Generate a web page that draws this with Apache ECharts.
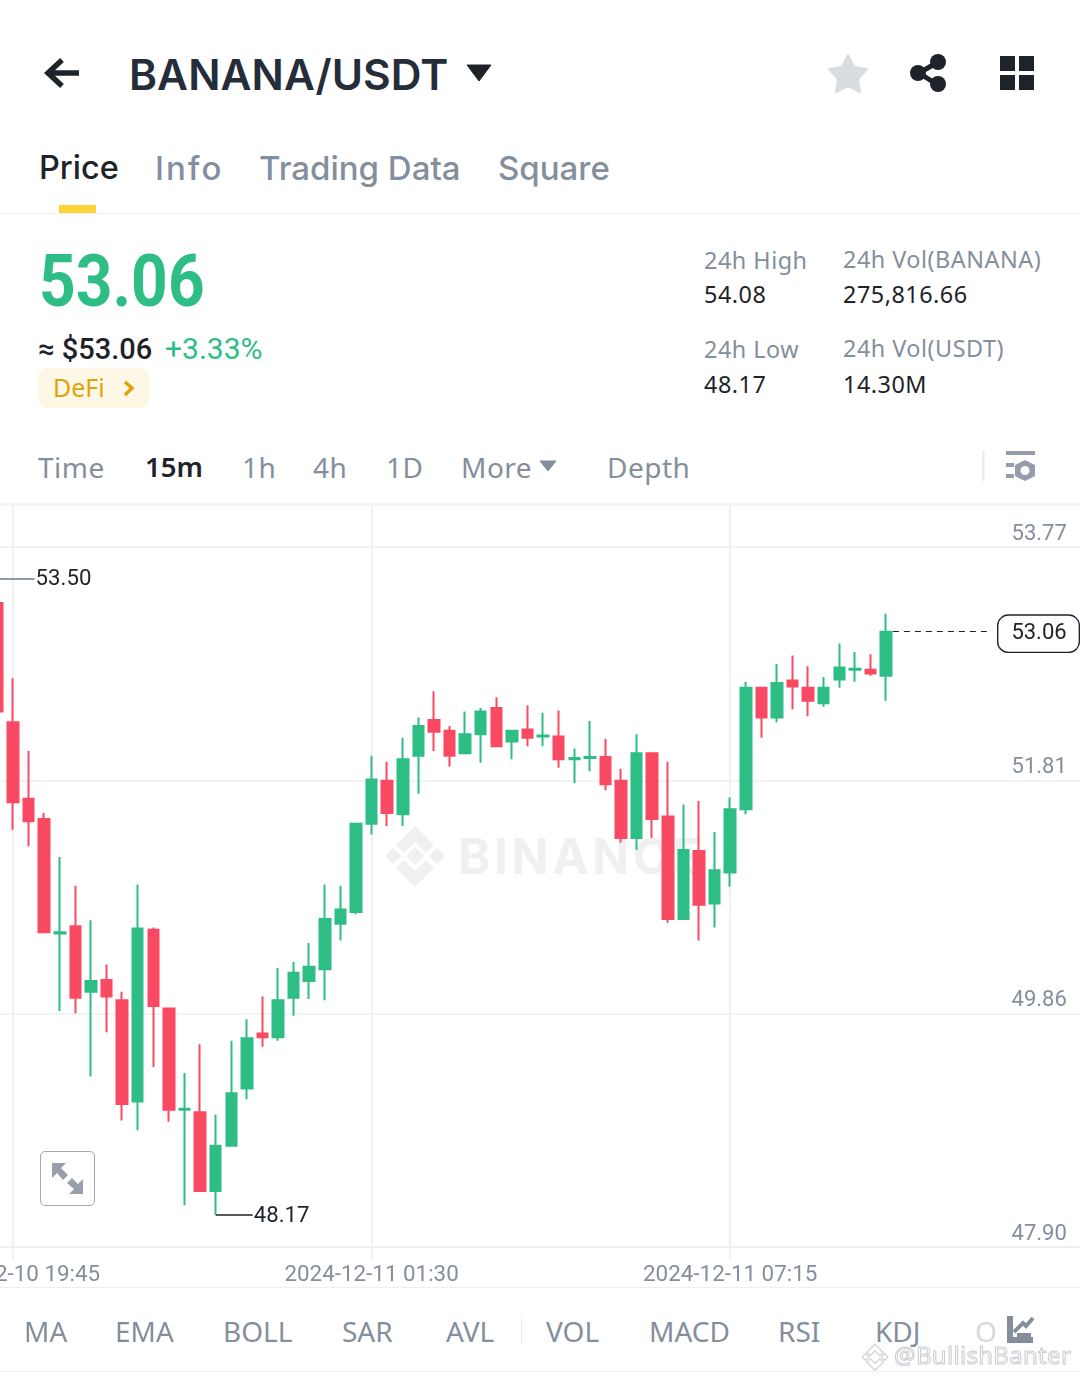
<!DOCTYPE html>
<html>
<head>
<meta charset="utf-8">
<title>BANANA/USDT</title>
<script src="https://cdn.jsdelivr.net/npm/echarts@6/dist/echarts.min.js"></script>
<style>
  html, body { margin: 0; padding: 0; background: #fff; }
  #page { position: relative; width: 1080px; height: 1378px; overflow: hidden; font-family: Inter, "Noto Sans", sans-serif; }
  .t { position: absolute; white-space: nowrap; line-height: 1; transform: translateY(-50%); color: #848e9c; }
  .plex { font-family: "Noto Sans", sans-serif; }
  .dark { color: #1e2329; }
  .line { position: absolute; left: 0; width: 1080px; background: #eeeff1; }
  svg { position: absolute; overflow: visible; }
  #chart { position: absolute; left: 0; top: 506px; width: 1080px; height: 781px; }
  .tab { font-size: 33px; font-weight: 500; }
  .stat { font-size: 23.4px; letter-spacing: 0.5px; font-family: "Noto Sans", sans-serif; }
  .period { font-size: 28px; top: 467px; letter-spacing: 0.5px; font-family: "Noto Sans", sans-serif; }
  .ind { font-size: 28px; top: 1331px; font-family: "Noto Sans", sans-serif; }
</style>
</head>
<body>
<div id="page">
  <!-- top bar -->
  <svg style="left:0;top:0" width="1080" height="120">
    <path d="M79 73 H49 M62 60 L48 73 L62 86" fill="none" stroke="#1e2329" stroke-width="5.5"/>
    <path d="M467 65 H491 L479 81 Z" fill="#1e2329" stroke="#1e2329" stroke-width="1" stroke-linejoin="round"/>
    <path d="M848 55 L854 67 L867 69 L858 79 L860 92 L848 86 L836 92 L838 79 L829 69 L842 67 Z" fill="#d9dce1" stroke="#d9dce1" stroke-width="2" stroke-linejoin="round"/>
    <path d="M938 62 L919 73 L938 85" fill="none" stroke="#1e2329" stroke-width="5"/>
    <circle cx="938" cy="62" r="8" fill="#1e2329"/><circle cx="918" cy="73" r="8" fill="#1e2329"/><circle cx="938" cy="84" r="8" fill="#1e2329"/>
    <path d="M1000 56 H1015 V71 H1000 Z M1019 56 H1034 V71 H1019 Z M1000 75 H1015 V90 H1000 Z M1019 75 H1034 V90 H1019 Z" fill="#1e2329"/>
  </svg>
  <div class="t dark" style="left:129px;top:75px;font-size:42.5px;font-weight:600;letter-spacing:0.1px;color:#252d3b">BANANA/USDT</div>

  <div class="t tab dark" style="left:39px;top:168px;font-size:32.5px">Price</div>
  <div class="t tab" style="left:155px;top:168px;letter-spacing:2px">Info</div>
  <div class="t tab" style="left:259px;top:168px">Trading Data</div>
  <div class="t tab" style="left:498px;top:168px">Square</div>
  <div style="position:absolute;left:59px;top:205px;width:37px;height:8px;background:#fcd535"></div>
  <div class="line" style="top:213px;height:1px"></div>

  <!-- price block -->
  <div class="t" id="bigPrice" style="left:39px;top:282px;font-family:Roboto;font-size:72px;font-weight:700;color:#2ebd85;transform:translateY(-50%) scaleX(0.89);transform-origin:left center">53.06</div>
  <div class="t dark" style="left:38px;top:349px;font-family:Roboto;font-size:29px;font-weight:500">≈ $53.06</div>
  <div class="t" style="left:165px;top:349px;font-family:Roboto;font-size:30px;color:#2ebd85">+3.33%</div>
  <div style="position:absolute;left:38px;top:368px;width:111px;height:40px;border-radius:9px;background:#fdf7e6"></div>
  <div class="t plex" style="left:53px;top:387px;font-size:25px;color:#e0a30b">DeFi</div>
  <svg style="left:0;top:0" width="200" height="420"><path d="M125 382 L132 388 L125 395" fill="none" stroke="#e0a30b" stroke-width="3.5"/></svg>

  <div class="t stat" style="left:704px;top:261px">24h High</div>
  <div class="t stat dark" style="left:704px;top:295px">54.08</div>
  <div class="t stat" style="left:704px;top:350px">24h Low</div>
  <div class="t stat dark" style="left:704px;top:385px">48.17</div>
  <div class="t stat" style="left:843px;top:260px">24h Vol(BANANA)</div>
  <div class="t stat dark" style="left:843px;top:295px">275,816.66</div>
  <div class="t stat" style="left:843px;top:349px">24h Vol(USDT)</div>
  <div class="t stat dark" style="left:843px;top:385px">14.30M</div>

  <!-- period row -->
  <div class="t period" style="left:38px">Time</div>
  <div class="t period dark" style="left:145px;font-weight:600;font-size:27.5px;letter-spacing:0">15m</div>
  <div class="t period" style="left:242px">1h</div>
  <div class="t period" style="left:313px">4h</div>
  <div class="t period" style="left:386px">1D</div>
  <div class="t period" style="left:461px">More</div>
  <div class="t period" style="left:607px">Depth</div>
  <svg style="left:0;top:0" width="1080" height="500">
    <path d="M540 461 H556 L548 471 Z" fill="#848e9c" stroke="#848e9c" stroke-linejoin="round"/>
    <rect x="982" y="451" width="2.5" height="30" fill="#eaecef"/>
    <path d="M1006 451 H1035 V455 H1006 Z M1006 463 H1014 V467 H1006 Z M1006 474 H1014 V478 H1006 Z" fill="#959cab"/>
    <path d="M1025 460 L1035 465 V476 L1025 481 L1015 476 V465 Z M1025 466 a4.5 4.5 0 1 0 0.01 0 Z" fill="#959cab" fill-rule="evenodd"/>
  </svg>
  <div class="line" style="top:503px;height:3px;background:#f5f5f6"></div>

  <!-- watermark sits under the transparent chart canvas -->
  <svg style="left:0;top:0" width="1080" height="900">
    <path d="M415 826 L434 845 L426 853 L415 842 L404 853 L396 845 Z M415 887 L434 868 L426 860 L415 871 L404 860 L396 868 Z M385 856 L393 848 L401 856 L393 864 Z M429 856 L437 848 L445 856 L437 864 Z M415 847 L424 856 L415 865 L406 856 Z" fill="#eef0f2"/>
  </svg>
  <div class="t" style="left:458px;top:856px;font-size:49px;font-weight:700;letter-spacing:3.5px;color:#eef0f2">BINANCE</div>

  <div id="chart"></div>

  <!-- expand button -->
  <div style="position:absolute;left:40px;top:1151px;width:53px;height:53px;border:1.5px solid #a4a9b5;border-radius:5px;background:#fff"></div>
  <svg style="left:0;top:0" width="200" height="1300">
    <path d="M52 1163 H66 L61 1168 L68 1175 L63 1180 L57 1173 L52 1178 Z" fill="#989eac"/>
    <path d="M83 1194 H69 L74 1189 L67 1183 L72 1178 L78 1184 L83 1179 Z" fill="#989eac"/>
  </svg>

  <div class="line" style="top:1287px;height:1px"></div>
  <div class="t ind" style="left:24px">MA</div>
  <div class="t ind" style="left:115px">EMA</div>
  <div class="t ind" style="left:223px">BOLL</div>
  <div class="t ind" style="left:342px">SAR</div>
  <div class="t ind" style="left:446px">AVL</div>
  <div style="position:absolute;left:521px;top:1314px;width:1px;height:30px;background:#eaecef"></div>
  <div class="t ind" style="left:546px">VOL</div>
  <div class="t ind" style="left:649px">MACD</div>
  <div class="t ind" style="left:778px">RSI</div>
  <div class="t ind" style="left:875px">KDJ</div>
  <div class="t ind" style="left:975px;color:#d5d8dd">O</div>
  <svg style="left:0;top:0" width="1080" height="1378">
    <path d="M1007 1316 H1013 V1337 H1033 V1343 H1007 Z" fill="#848e9c"/>
    <path d="M1014 1332 L1023 1323 L1026 1326 L1033 1318 M1017 1335 L1031 1335" fill="none" stroke="#848e9c" stroke-width="4"/>
    <g transform="translate(875 1357) scale(0.43) translate(-415 -856)">
      <path d="M415 826 L434 845 L426 853 L415 842 L404 853 L396 845 Z M415 887 L434 868 L426 860 L415 871 L404 860 L396 868 Z M385 856 L393 848 L401 856 L393 864 Z M429 856 L437 848 L445 856 L437 864 Z" fill="#fff" stroke="#c9ccd2" stroke-width="2.4"/>
    </g>
  </svg>
  <div class="line" style="top:1371px;height:1px"></div>
  <div class="t plex" style="left:894px;top:1355px;font-size:24px;letter-spacing:0.3px;color:#fff;-webkit-text-stroke:1px #c9ccd2">@BullishBanter</div>
</div>

<script>
const candleTimes = [
  "2024-12-10 19:30", "2024-12-10 19:45", "2024-12-10 20:00", "2024-12-10 20:15", "2024-12-10 20:30",
  "2024-12-10 20:45", "2024-12-10 21:00", "2024-12-10 21:15", "2024-12-10 21:30", "2024-12-10 21:45",
  "2024-12-10 22:00", "2024-12-10 22:15", "2024-12-10 22:30", "2024-12-10 22:45", "2024-12-10 23:00",
  "2024-12-10 23:15", "2024-12-10 23:30", "2024-12-10 23:45", "2024-12-11 00:00", "2024-12-11 00:15",
  "2024-12-11 00:30", "2024-12-11 00:45", "2024-12-11 01:00", "2024-12-11 01:15", "2024-12-11 01:30",
  "2024-12-11 01:45", "2024-12-11 02:00", "2024-12-11 02:15", "2024-12-11 02:30", "2024-12-11 02:45",
  "2024-12-11 03:00", "2024-12-11 03:15", "2024-12-11 03:30", "2024-12-11 03:45", "2024-12-11 04:00",
  "2024-12-11 04:15", "2024-12-11 04:30", "2024-12-11 04:45", "2024-12-11 05:00", "2024-12-11 05:15",
  "2024-12-11 05:30", "2024-12-11 05:45", "2024-12-11 06:00", "2024-12-11 06:15", "2024-12-11 06:30",
  "2024-12-11 06:45", "2024-12-11 07:00", "2024-12-11 07:15", "2024-12-11 07:30", "2024-12-11 07:45",
  "2024-12-11 08:00", "2024-12-11 08:15", "2024-12-11 08:30", "2024-12-11 08:45", "2024-12-11 09:00",
  "2024-12-11 09:15", "2024-12-11 09:30", "2024-12-11 09:45"
];
const opens = [
  53.30, 52.30, 51.66, 51.49, 50.53, 50.59, 50.04, 50.14, 49.97, 49.12,
  50.56, 49.90, 49.05, 49.03, 48.37, 48.75, 49.23, 49.69, 49.66, 49.99,
  50.13, 50.23, 50.61, 50.71, 51.45, 51.81, 51.53, 52.02, 52.32, 52.23,
  52.04, 52.20, 52.42, 52.14, 52.24, 52.18, 52.18, 51.99, 52.00, 52.01,
  51.81, 51.33, 52.04, 51.51, 50.65, 51.22, 50.78, 51.04, 51.57, 52.59,
  52.34, 52.65, 52.59, 52.46, 52.66, 52.74, 52.74, 52.69
];
const closes = [
  52.39, 51.63, 51.47, 50.54, 50.54, 49.99, 50.13, 50.00, 49.10, 50.57,
  49.92, 49.05, 49.06, 48.37, 48.75, 49.19, 49.65, 49.66, 49.97, 50.20,
  50.25, 50.65, 50.73, 51.45, 51.82, 51.54, 51.99, 52.27, 52.22, 52.02,
  52.20, 52.39, 52.10, 52.23, 52.17, 52.19, 51.99, 52.00, 52.01, 51.78,
  51.33, 52.04, 51.49, 50.65, 51.23, 50.77, 51.06, 51.57, 52.59, 52.34,
  52.63, 52.60, 52.48, 52.59, 52.76, 52.75, 52.71, 53.06
];
const lows = [
  52.30, 51.40, 51.26, 50.54, 49.88, 49.86, 49.33, 49.70, 48.96, 48.88,
  49.41, 48.95, 48.25, 48.37, 48.17, 48.75, 49.14, 49.58, 49.63, 49.84,
  49.98, 49.97, 50.47, 50.69, 51.36, 51.43, 51.43, 51.70, 52.06, 51.93,
  52.03, 51.96, 52.10, 51.99, 52.10, 52.10, 51.92, 51.79, 51.89, 51.73,
  51.29, 51.23, 51.33, 50.62, 50.65, 50.47, 50.58, 50.92, 51.53, 52.17,
  52.30, 52.41, 52.35, 52.43, 52.59, 52.64, 52.69, 52.48
];
const highs = [
  53.50, 52.67, 52.06, 51.54, 51.17, 50.93, 50.64, 50.27, 50.04, 50.94,
  50.58, 49.90, 49.36, 49.60, 49.01, 49.63, 49.81, 50.00, 50.24, 50.29,
  50.45, 50.94, 50.93, 51.45, 52.02, 51.97, 52.17, 52.34, 52.56, 52.27,
  52.39, 52.42, 52.51, 52.23, 52.44, 52.38, 52.40, 52.08, 52.31, 52.16,
  51.91, 52.20, 52.04, 51.97, 51.61, 51.64, 51.38, 51.67, 52.64, 52.59,
  52.79, 52.86, 52.77, 52.68, 52.96, 52.89, 52.87, 53.21
];
const priceTicks = [47.90, 49.86, 51.81, 53.77];
const timeTicks = ["2024-12-10 19:45", "2024-12-11 01:30", "2024-12-11 07:15"];

const GREEN = "#2ebd85";
const RED = "#f94963";
const GRID_LINE = "#eeeff1";
const LABEL_FONT = "Roboto";

function priceNote(from, to, price, lineColor, labelDy) {
  return [
    {
      coord: [from, price],
      lineStyle: { color: lineColor, width: 1.5, type: "solid" },
      label: { show: true, position: "end", formatter: price.toFixed(2), distance: 1, offset: [0, labelDy], color: "#1e2329", fontFamily: LABEL_FONT, fontSize: 22.2 }
    },
    { coord: [to, price] }
  ];
}

// last price: dashed leader into the rounded box on the right
function lastPriceLine(from, to, price) {
  return [
    {
      coord: [from, price],
      lineStyle: { color: "#1e2329", width: 1.2, type: [6, 5] },
      label: {
        show: true, position: "end", formatter: price.toFixed(2), distance: 10, offset: [0, 2],
        color: "#1e2329", fontFamily: LABEL_FONT, fontSize: 22, padding: [13, 12, 1, 13],
        borderColor: "#1e2329", borderWidth: 1.4, borderRadius: 10, backgroundColor: "#fff"
      }
    },
    { coord: [to, price] }
  ];
}

const chart = echarts.init(document.getElementById("chart"));
chart.setOption({
  animation: false,
  grid: { left: -18.18, width: 1106.98, top: 0, height: 741, outerBoundsMode: "none", containLabel: false },
  xAxis: {
    type: "time",
    min: "2024-12-10 19:15",
    max: "2024-12-11 13:00",
    axisLine: { show: true, lineStyle: { color: GRID_LINE, width: 2 } },
    axisTick: { show: true, length: 14, customValues: timeTicks, lineStyle: { color: GRID_LINE, width: 1.5 } },
    splitLine: { show: true, lineStyle: { color: GRID_LINE, width: 1.5 } },
    minorTick: { show: false },
    axisLabel: {
      customValues: timeTicks,
      formatter: "{yyyy}-{MM}-{dd} {HH}:{mm}",
      color: "#848e9c", fontFamily: LABEL_FONT, fontSize: 22.4, margin: 17, hideOverlap: false
    }
  },
  yAxis: {
    type: "value",
    position: "right",
    min: 47.9,
    max: 54.114,
    axisLine: { show: false },
    axisTick: { show: false, customValues: priceTicks },
    splitLine: { show: true, lineStyle: { color: GRID_LINE, width: 1.5 } },
    axisLabel: {
      inside: true,
      customValues: priceTicks,
      formatter: (v) => v.toFixed(2),
      verticalAlign: "bottom", lineHeight: 26, margin: 22,
      color: "#848e9c", fontFamily: LABEL_FONT, fontSize: 22
    }
  },
  series: [
    {
      type: "candlestick",
      barWidth: 11,
      data: candleTimes.map((t, i) => [t, opens[i], closes[i], lows[i], highs[i]]),
      itemStyle: { color: GREEN, color0: RED, borderColor: GREEN, borderColor0: RED, borderWidth: 2 },
      markLine: {
        silent: true,
        symbol: "none",
        animation: false,
        data: [
          priceNote("2024-12-10 19:30", "2024-12-10 20:05:48", 53.5, "#707a8a", 0),
          priceNote("2024-12-10 23:00", "2024-12-10 23:35:40", 48.17, "#1e2329", 2),
          lastPriceLine("2024-12-11 09:51:30", "2024-12-11 11:23:24", 53.06)
        ]
      }
    }
  ]
});
</script>
</body>
</html>
